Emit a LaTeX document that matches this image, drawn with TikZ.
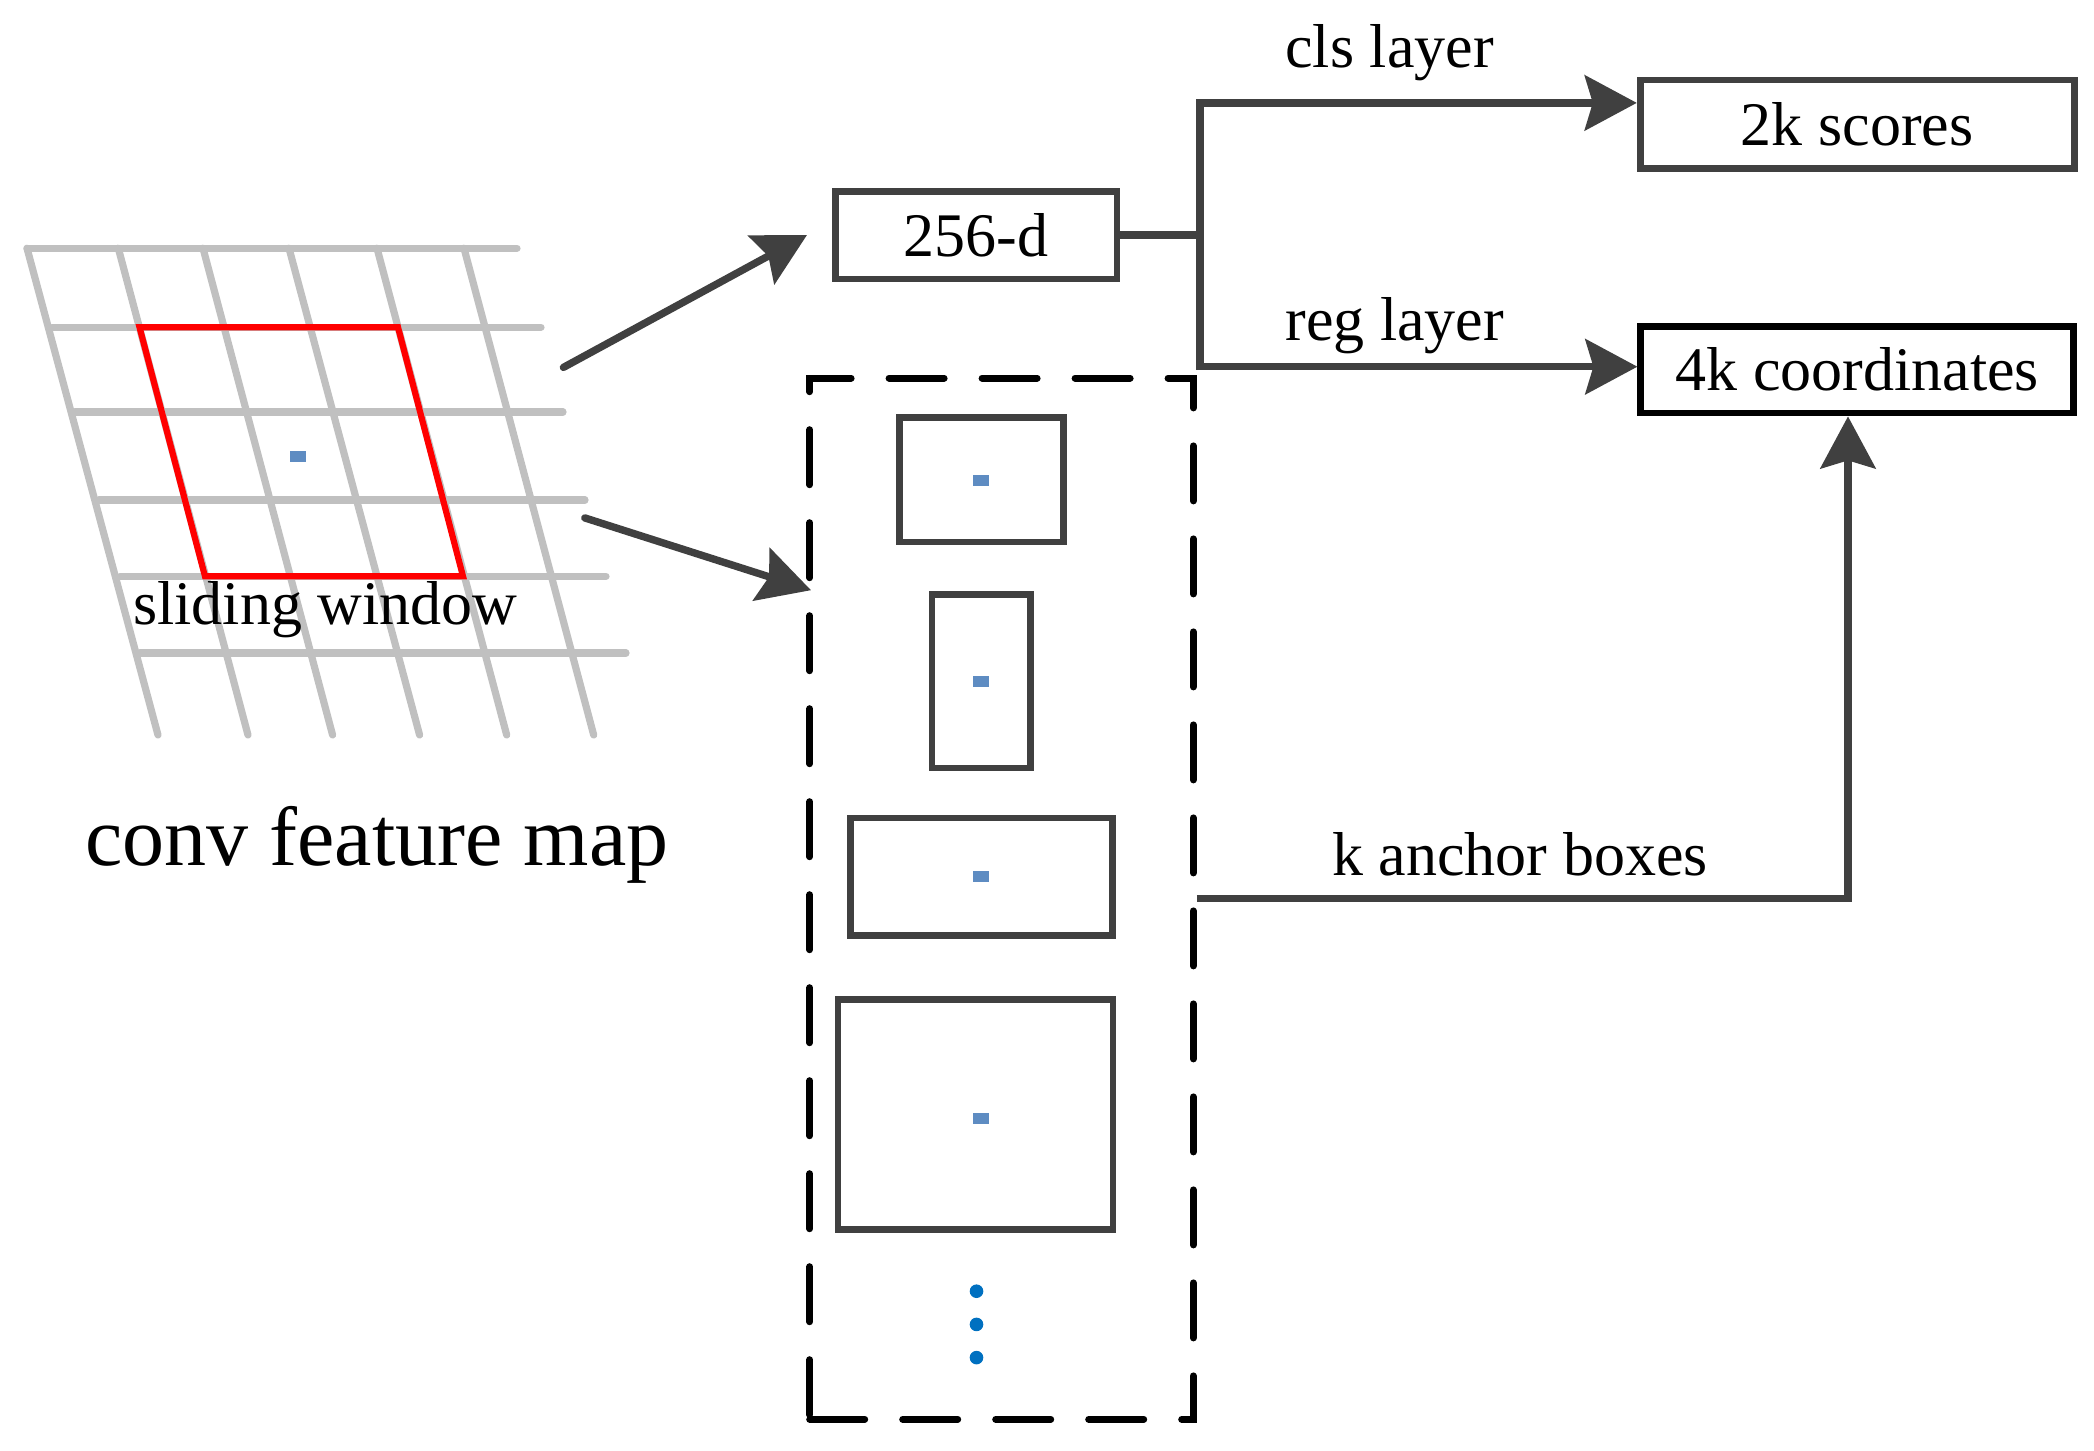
\documentclass[tikz,border=0pt]{standalone}
\usepackage{fontspec}
\setmainfont{Liberation Serif}
\usetikzlibrary{arrows.meta}
\definecolor{edgegray}{RGB}{64,64,64}
\definecolor{gridgray}{RGB}{192,192,192}
\definecolor{centreblue}{RGB}{94,140,194}
\definecolor{dotblue}{RGB}{0,112,192}

\begin{document}
\begin{tikzpicture}[x=0.5pt,y=0.5pt,yscale=-1,
  box/.style={draw=edgegray,line width=3.4pt,inner sep=0pt,font=\fontsize{31}{37}\selectfont},
  anchorbox/.style={draw=edgegray,line width=3.2pt,inner sep=0pt},
  centre/.style={fill=centreblue,inner sep=0pt,minimum width=8pt,minimum height=5.5pt},
  conn/.style={draw=edgegray,line width=3.7pt},
  arr/.style={conn,-{Stealth[length=26pt,width=27.5pt,inset=4pt]}},
  lbl/.style={inner sep=0pt,anchor=base west,font=\fontsize{31}{37}\selectfont},
  gridline/.style={draw=gridgray,line width=3.6pt,line cap=round}]
\useasboundingbox (0,0) rectangle (2094,1451);

% Feature map grid
\draw[gridline] (27,248.2) -- (517,248.2);
\draw[gridline] (52,327.2) -- (541,327.2);
\draw[gridline] (75,412) -- (563,412);
\draw[gridline] (99,500) -- (585,500);
\draw[gridline] (120,576.3) -- (606,576.3);
\draw[gridline] (140,653) -- (626,653);
\draw[gridline] (27,248.2) -- (158,735);
\draw[gridline] (118.3,248.2) -- (248,735);
\draw[gridline] (203,248.2) -- (332.6,735);
\draw[gridline] (289,248.2) -- (419.6,735);
\draw[gridline] (377,248.2) -- (506.7,735);
\draw[gridline] (464,248.2) -- (593.7,735);
% Sliding window
\draw[red,line width=3.1pt] (139.5,327.2) -- (398,327.2) -- (463,576.3) -- (205,576.3) -- cycle;
\node[centre] (wincentre) at (297.8,456.3) {};

% Text Node
\node[lbl] (winlabel) at (133,624) {sliding window};
% Text Node
\node[lbl,font=\fontsize{42}{50}\selectfont] (maplabel) at (85,865) {conv feature map};

% Boxes
\node[box,minimum width=140.6pt,minimum height=43.9pt] (feat) at (976.3,235) {256-d};
\node[box,minimum width=217pt,minimum height=44.2pt] (scores) at (1857.2,124.1) {2k scores};
\node[box,draw=black,minimum width=216.5pt,minimum height=43.3pt] (coords) at (1857.3,369.7) {4k coordinates};

% Anchor boxes
\node[draw=black,line width=3.5pt,line cap=round,dash pattern=on 27.5pt off 19pt,inner sep=0pt,minimum width=191.8pt,minimum height=520.6pt] (anchors) at (1001.5,898.7) {};
\node[anchorbox,minimum width=81.9pt,minimum height=62.2pt] (box1) at (981.5,479.8) {};
\node[anchorbox,minimum width=49.4pt,minimum height=86.7pt] (box2) at (981.2,681.2) {};
\node[anchorbox,minimum width=131pt,minimum height=58.8pt] (box3) at (981.3,876.5) {};
\node[anchorbox,minimum width=137.5pt,minimum height=115pt] (box4) at (975.7,1114.6) {};
\node[centre] (centre1) at (981,480.8) {};
\node[centre] (centre2) at (981,681) {};
\node[centre] (centre3) at (981,876.7) {};
\node[centre] (centre4) at (981,1118) {};
\fill[dotblue] (976.5,1291.2) circle (6.8);
\fill[dotblue] (976.5,1324.4) circle (6.8);
\fill[dotblue] (976.5,1357.6) circle (6.8);

% Text Node
\node[lbl] (clslabel) at (1285,68) {cls layer};
% Text Node
\node[lbl] (reglabel) at (1285,340) {reg layer};
% Text Node
\node[lbl] (klabel) at (1332,875) {k anchor boxes};

% Connection
\coordinate (mapout1) at (563.4,367.4);
\coordinate (mapout2) at (584.8,517.9);
\coordinate (featin) at (807,235);
\coordinate (anchorin) at (811,590.2);
\coordinate (split) at (1199.9,235);
\coordinate (clsrow) at (1199.9,102.9);
\coordinate (regrow) at (1199.9,366.7);
\coordinate (kturn) at (1848,898.7);
\draw[arr,line cap=round] (mapout1) -- (featin);
\draw[arr,line cap=round] (mapout2) -- (anchorin);
\draw[conn] (feat.east) -- (split);
\draw[arr] (split) |- (scores.west |- clsrow);
\draw[arr] (split) |- (coords.west |- regrow);
\draw[arr] (anchors.east |- kturn) -- (kturn) -- (coords.south -| kturn);

\end{tikzpicture}
\end{document}
